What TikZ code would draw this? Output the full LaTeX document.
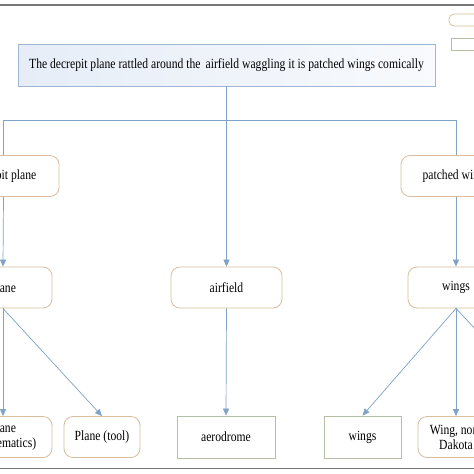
\documentclass[tikz,border=0pt]{standalone}
\usepackage{fontspec}
\setmainfont{Liberation Serif}[FakeStretch=0.83]
\usetikzlibrary{arrows.meta}
\definecolor{tanline}{HTML}{D9BE9E}
\definecolor{greenline}{HTML}{B4C0A4}
\definecolor{conn}{HTML}{7FA3C6}
\definecolor{topline}{HTML}{9FB7D2}
\definecolor{topfillA}{HTML}{E6EDF7}
\definecolor{topfillB}{HTML}{F8FAFD}
\definecolor{frame}{HTML}{777777}
\begin{document}
\begin{tikzpicture}[x=1pt,y=-1pt,
  every node/.style={font=\fontsize{14}{15}\selectfont, align=center, inner sep=0pt},
  rbox/.style={draw=tanline, line width=0.8pt, rounded corners=9pt, fill=white, minimum height=41pt},
  gbox/.style={draw=greenline, line width=0.8pt, fill=white, minimum height=42pt},
  tbox/.style={draw=topline, line width=0.8pt, left color=topfillA, right color=topfillB, minimum height=42pt, minimum width=417pt},
  link/.style={draw=conn, line width=0.7pt},
  arr/.style={link, -{Triangle[length=7pt,width=6pt]}}]
\useasboundingbox (0,0) rectangle (474,474);
\clip (0,0) rectangle (474,474);
\fill[white] (0,0) rectangle (474,474);
% frame lines
\draw[frame, line width=1.6pt] (-5,5) -- (480,5);
\draw[frame, line width=1.6pt] (-5,468.5) -- (480,468.5);
% legend
\node[draw=tanline, line width=0.8pt, rounded corners=5pt, minimum width=50pt, minimum height=12pt] (lg1) at (474,20) {};
\node[draw=greenline, line width=0.8pt, minimum width=46pt, minimum height=12pt] (lg2) at (474,44) {};
% title
\node[tbox] (top) at (226.5,65) {The decrepit plane rattled around the\, airfield waggling it is patched wings comically};
% level 1
\node[rbox, minimum width=111pt] (dp) at (3.5,176) {decrepit plane};
\node[rbox, minimum width=110pt] (pw) at (456,176) {patched wings};
% level 2
\node[rbox, minimum width=98pt] (pl) at (3,287.5) {Plane};
\node[rbox, minimum width=111pt] (af) at (226.5,287.5) {airfield};
\node[rbox, minimum width=96pt] (wg) at (456,287.5) {wings};
% level 3
\node[rbox, minimum width=98pt] (pm) at (3,437) {Plane\\(mathematics)};
\node[rbox, minimum width=76pt] (pt) at (102,437) {Plane (tool)};
\node[gbox, minimum width=98pt] (ae) at (226,437) {aerodrome};
\node[gbox, minimum width=77pt] (w2) at (362.5,437) {wings};
\node[rbox, minimum width=76pt] (wn) at (456,437) {Wing, non-\\Dakota};
\coordinate (j) at (226.5,120);
\coordinate (off) at (556,416);
% connectors
\draw[link] (top.south) -- (j);
\draw[link] (j) -| (dp.north);
\draw[link] (j) -| (pw.north);
\draw[arr] (j) -- (af.north);
\draw[arr] (dp.south) -- (pl.north);
\draw[arr] (pw.south) -- (wg.north);
\draw[arr] (pl.south) -- (pm.north);
\draw[arr] (pl.south) -- (pt.north);
\draw[arr] (af.south) -- (ae.north);
\draw[arr] (wg.south) -- (w2.north);
\draw[arr] (wg.south) -- (wn.north);
\draw[arr] (wg.south) -- (off);
\end{tikzpicture}
\end{document}
